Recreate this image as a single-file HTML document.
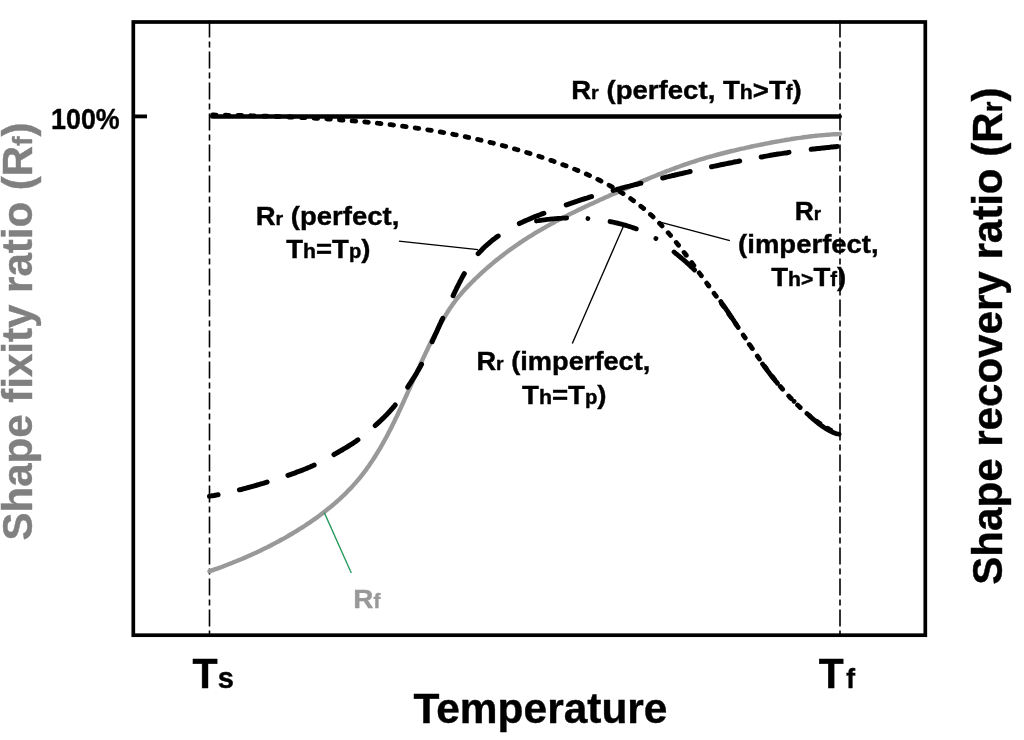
<!DOCTYPE html>
<html><head><meta charset="utf-8"><title>Shape memory chart</title>
<style>html,body{margin:0;padding:0;background:#fff}svg{display:block}</style></head>
<body>
<svg width="1024" height="740" viewBox="0 0 1024 740">
<rect width="1024" height="740" fill="#fff"/>
<g fill="none" stroke-linecap="butt">
<rect x="133.3" y="22" width="792" height="613.2" stroke="#000" stroke-width="3.7"/>
<line x1="135" y1="116.4" x2="147" y2="116.4" stroke="#000" stroke-width="3.8"/>
<line x1="209.5" y1="20.5" x2="209.5" y2="635" stroke="#000" stroke-width="1.6" stroke-dasharray="17 4 6 4"/>
<line x1="840" y1="20.5" x2="840" y2="635" stroke="#000" stroke-width="1.6" stroke-dasharray="17 4 6 4"/>
<path d="M209.5 571.3 L211.4 570.6 L213.4 569.9 L215.3 569.2 L217.2 568.6 L219.1 567.9 L221.0 567.2 L222.9 566.5 L224.8 565.7 L226.7 565.0 L228.6 564.3 L230.5 563.5 L232.4 562.8 L234.2 562.0 L236.1 561.3 L238.0 560.5 L239.9 559.7 L241.7 559.0 L243.6 558.2 L245.5 557.4 L247.3 556.6 L249.2 555.7 L251.0 554.9 L252.9 554.1 L254.7 553.2 L256.5 552.4 L258.4 551.5 L260.2 550.7 L262.0 549.8 L263.8 548.9 L265.7 548.0 L267.5 547.1 L269.3 546.2 L271.1 545.3 L272.9 544.3 L274.7 543.4 L276.5 542.4 L278.3 541.5 L280.0 540.5 L281.8 539.5 L283.6 538.6 L285.4 537.6 L287.1 536.6 L288.9 535.5 L290.6 534.5 L292.4 533.5 L294.1 532.4 L295.9 531.4 L297.6 530.3 L299.3 529.2 L301.1 528.2 L302.8 527.1 L304.5 526.0 L306.2 524.8 L307.9 523.7 L309.6 522.6 L311.3 521.4 L312.9 520.3 L314.6 519.1 L316.3 517.9 L317.9 516.7 L319.6 515.5 L321.2 514.3 L322.8 513.1 L324.4 511.8 L326.0 510.6 L327.6 509.3 L329.2 508.0 L330.8 506.8 L332.3 505.5 L333.9 504.1 L335.4 502.8 L336.9 501.5 L338.4 500.1 L339.9 498.8 L341.4 497.4 L342.9 496.0 L344.4 494.6 L345.8 493.2 L347.2 491.8 L348.6 490.3 L350.0 488.9 L351.4 487.4 L352.8 485.9 L354.1 484.4 L355.5 482.9 L356.8 481.4 L358.1 479.9 L359.4 478.3 L360.6 476.8 L361.9 475.2 L363.1 473.6 L364.3 472.0 L365.6 470.4 L366.7 468.7 L367.9 467.1 L369.1 465.5 L370.2 463.8 L371.4 462.1 L372.5 460.4 L373.6 458.7 L374.7 457.0 L375.8 455.3 L376.8 453.6 L377.9 451.9 L378.9 450.1 L380.0 448.4 L381.0 446.6 L382.0 444.9 L383.0 443.1 L384.0 441.3 L385.0 439.5 L386.0 437.8 L386.9 436.0 L387.9 434.2 L388.8 432.3 L389.8 430.5 L390.7 428.7 L391.6 426.9 L392.5 425.1 L393.4 423.2 L394.3 421.4 L395.2 419.6 L396.1 417.7 L397.0 415.9 L397.9 414.0 L398.7 412.2 L399.6 410.3 L400.5 408.5 L401.3 406.6 L402.2 404.8 L403.0 402.9 L403.9 401.1 L404.7 399.2 L405.5 397.3 L406.4 395.5 L407.2 393.6 L408.0 391.8 L408.9 389.9 L409.7 388.1 L410.5 386.2 L411.3 384.4 L412.2 382.5 L413.0 380.7 L413.8 378.8 L414.7 377.0 L415.5 375.1 L416.3 373.3 L417.1 371.4 L418.0 369.6 L418.8 367.8 L419.7 365.9 L420.5 364.1 L421.3 362.2 L422.2 360.4 L423.0 358.6 L423.9 356.8 L424.8 354.9 L425.6 353.1 L426.5 351.3 L427.4 349.5 L428.2 347.6 L429.1 345.8 L430.0 344.0 L430.9 342.2 L431.8 340.4 L432.8 338.6 L433.7 336.8 L434.6 335.0 L435.6 333.2 L436.5 331.4 L437.5 329.6 L438.4 327.9 L439.4 326.1 L440.4 324.3 L441.4 322.5 L442.4 320.8 L443.4 319.0 L444.4 317.3 L445.5 315.5 L446.5 313.8 L447.6 312.0 L448.7 310.3 L449.8 308.6 L451.0 306.9 L452.1 305.3 L453.3 303.6 L454.5 302.0 L455.7 300.3 L456.9 298.7 L458.2 297.2 L459.5 295.6 L460.8 294.1 L462.1 292.5 L463.5 291.0 L464.8 289.5 L466.2 288.0 L467.6 286.6 L469.0 285.1 L470.4 283.7 L471.8 282.2 L473.3 280.8 L474.7 279.4 L476.2 278.0 L477.7 276.6 L479.2 275.2 L480.6 273.8 L482.1 272.4 L483.6 271.1 L485.2 269.7 L486.7 268.4 L488.2 267.0 L489.8 265.7 L491.3 264.4 L492.9 263.1 L494.4 261.8 L496.0 260.5 L497.6 259.2 L499.2 258.0 L500.8 256.7 L502.4 255.5 L504.0 254.2 L505.6 253.0 L507.3 251.8 L508.9 250.6 L510.5 249.4 L512.2 248.2 L513.9 247.0 L515.5 245.9 L517.2 244.7 L518.9 243.6 L520.5 242.4 L522.2 241.3 L523.9 240.2 L525.6 239.1 L527.3 238.0 L529.0 236.9 L530.8 235.8 L532.5 234.8 L534.2 233.7 L535.9 232.7 L537.7 231.6 L539.4 230.6 L541.2 229.6 L542.9 228.6 L544.7 227.6 L546.4 226.6 L548.2 225.6 L550.0 224.6 L551.8 223.6 L553.5 222.7 L555.3 221.7 L557.1 220.7 L558.9 219.8 L560.7 218.9 L562.5 217.9 L564.3 217.0 L566.1 216.1 L567.9 215.2 L569.7 214.3 L571.5 213.4 L573.4 212.5 L575.2 211.6 L577.0 210.7 L578.8 209.8 L580.7 208.9 L582.5 208.0 L584.3 207.2 L586.2 206.3 L588.0 205.4 L589.8 204.6 L591.7 203.7 L593.5 202.9 L595.4 202.0 L597.2 201.2 L599.1 200.3 L600.9 199.5 L602.8 198.7 L604.6 197.8 L606.5 197.0 L608.3 196.2 L610.2 195.3 L612.0 194.5 L613.9 193.7 L615.8 192.9 L617.6 192.0 L619.5 191.2 L621.3 190.4 L623.2 189.6 L625.0 188.7 L626.9 187.9 L628.8 187.1 L630.6 186.3 L632.5 185.5 L634.3 184.7 L636.2 183.8 L638.1 183.0 L639.9 182.2 L641.8 181.4 L643.7 180.6 L645.5 179.9 L647.4 179.1 L649.3 178.3 L651.1 177.5 L653.0 176.7 L654.9 176.0 L656.8 175.2 L658.6 174.4 L660.5 173.7 L662.4 172.9 L664.3 172.2 L666.2 171.4 L668.1 170.7 L670.0 170.0 L671.9 169.3 L673.8 168.6 L675.7 167.8 L677.6 167.2 L679.5 166.5 L681.4 165.8 L683.3 165.1 L685.2 164.4 L687.1 163.8 L689.0 163.1 L690.9 162.5 L692.9 161.9 L694.8 161.3 L696.7 160.6 L698.7 160.0 L700.6 159.4 L702.5 158.9 L704.5 158.3 L706.4 157.7 L708.4 157.2 L710.3 156.6 L712.3 156.1 L714.2 155.5 L716.2 155.0 L718.2 154.5 L720.1 154.0 L722.1 153.5 L724.0 153.0 L726.0 152.5 L728.0 152.0 L730.0 151.5 L731.9 151.0 L733.9 150.6 L735.9 150.1 L737.9 149.6 L739.8 149.2 L741.8 148.7 L743.8 148.3 L745.8 147.8 L747.8 147.4 L749.8 147.0 L751.7 146.5 L753.7 146.1 L755.7 145.7 L757.7 145.3 L759.7 144.9 L761.7 144.5 L763.7 144.1 L765.7 143.7 L767.7 143.3 L769.6 142.9 L771.6 142.5 L773.6 142.1 L775.6 141.8 L777.6 141.4 L779.6 141.1 L781.6 140.7 L783.6 140.4 L785.6 140.0 L787.6 139.7 L789.6 139.4 L791.6 139.0 L793.6 138.7 L795.6 138.4 L797.6 138.1 L799.6 137.9 L801.6 137.6 L803.6 137.3 L805.7 137.0 L807.7 136.8 L809.7 136.5 L811.7 136.3 L813.7 136.1 L815.7 135.8 L817.7 135.6 L819.8 135.4 L821.8 135.2 L823.8 135.1 L825.8 134.9 L827.8 134.7 L829.9 134.6 L831.9 134.4 L833.9 134.3 L835.9 134.2 L838.0 134.1 L840.0 134.0" stroke="#999" stroke-width="4.4" stroke-linecap="round"/>
<line x1="212.3" y1="116.6" x2="839.7" y2="116.6" stroke="#000" stroke-width="4.5" stroke-linecap="round"/>
<path d="M212.6 115.0 L214.1 115.0 L215.6 115.1 L217.1 115.1 L218.5 115.1 L220.0 115.1 L221.5 115.2 L223.0 115.2 L224.5 115.2 L226.0 115.2 L227.5 115.3 L229.0 115.3 L230.5 115.3 L232.0 115.3 L233.5 115.4 L235.0 115.4 L236.5 115.4 L238.0 115.5 L239.5 115.5 L241.0 115.5 L242.5 115.5 L244.0 115.6 L245.5 115.6 L247.0 115.6 L248.5 115.7 L250.0 115.7 L251.5 115.8 L253.0 115.8 L254.5 115.8 L256.0 115.9 L257.5 115.9 L259.0 115.9 L260.5 116.0 L262.0 116.0 L263.5 116.1 L265.0 116.1 L266.5 116.2 L268.0 116.2 L269.5 116.3 L271.0 116.3 L272.5 116.4 L274.0 116.4 L275.5 116.5 L277.0 116.5 L278.5 116.6 L280.0 116.6 L281.5 116.7 L283.0 116.7 L284.5 116.8 L286.0 116.8 L287.5 116.9 L289.0 117.0 L290.5 117.0 L292.0 117.1 L293.5 117.2 L295.0 117.2 L296.5 117.3 L298.0 117.4 L299.5 117.4 L301.0 117.5 L302.5 117.6 L304.0 117.6 L305.5 117.7 L307.0 117.8 L308.5 117.9 L310.0 118.0 L311.5 118.0 L313.0 118.1 L314.5 118.2 L316.0 118.3 L317.5 118.4 L319.0 118.5 L320.5 118.5 L322.0 118.6 L323.5 118.7 L325.0 118.8 L326.5 118.9 L328.0 119.0 L329.5 119.1 L331.0 119.2 L332.5 119.3 L334.0 119.4 L335.5 119.5 L337.0 119.6 L338.5 119.7 L340.0 119.8 L341.5 120.0 L343.0 120.1 L344.5 120.2 L346.0 120.3 L347.5 120.4 L349.0 120.5 L350.5 120.7 L352.0 120.8 L353.5 120.9 L355.0 121.0 L356.5 121.2 L358.0 121.3 L359.5 121.4 L361.0 121.6 L362.5 121.7 L364.0 121.8 L365.5 122.0 L367.0 122.1 L368.5 122.3 L370.0 122.4 L371.5 122.6 L373.0 122.7 L374.5 122.9 L376.0 123.0 L377.5 123.2 L379.0 123.3 L380.5 123.5 L382.0 123.7 L383.5 123.8 L385.0 124.0 L386.4 124.2 L387.9 124.3 L389.4 124.5 L390.9 124.7 L392.4 124.9 L393.9 125.1 L395.4 125.2 L396.9 125.4 L398.4 125.6 L399.9 125.8 L401.4 126.0 L402.8 126.2 L404.3 126.4 L405.8 126.6 L407.3 126.8 L408.8 127.0 L410.3 127.2 L411.8 127.4 L413.3 127.6 L414.7 127.8 L416.2 128.0 L417.7 128.3 L419.2 128.5 L420.7 128.7 L422.2 128.9 L423.6 129.2 L425.1 129.4 L426.6 129.6 L428.1 129.9 L429.6 130.1 L431.1 130.3 L432.5 130.6 L434.0 130.8 L435.5 131.1 L437.0 131.3 L438.5 131.6 L439.9 131.8 L441.4 132.1 L442.9 132.4 L444.4 132.6 L445.8 132.9 L447.3 133.2 L448.8 133.4 L450.3 133.7 L451.7 134.0 L453.2 134.3 L454.7 134.6 L456.1 134.8 L457.6 135.1 L459.1 135.4 L460.6 135.7 L462.0 136.0 L463.5 136.3 L465.0 136.6 L466.4 136.9 L467.9 137.3 L469.4 137.6 L470.8 137.9 L472.3 138.2 L473.7 138.5 L475.2 138.9 L476.7 139.2 L478.1 139.5 L479.6 139.9 L481.1 140.2 L482.5 140.5 L484.0 140.9 L485.4 141.2 L486.9 141.6 L488.3 141.9 L489.8 142.3 L491.3 142.7 L492.7 143.0 L494.2 143.4 L495.6 143.8 L497.1 144.1 L498.5 144.5 L500.0 144.9 L501.4 145.3 L502.9 145.7 L504.3 146.0 L505.8 146.4 L507.2 146.8 L508.7 147.2 L510.1 147.6 L511.6 148.0 L513.0 148.4 L514.4 148.9 L515.9 149.3 L517.3 149.7 L518.8 150.1 L520.2 150.5 L521.7 151.0 L523.1 151.4 L524.5 151.8 L526.0 152.3 L527.4 152.7 L528.8 153.1 L530.3 153.6 L531.7 154.0 L533.1 154.5 L534.6 154.9 L536.0 155.4 L537.4 155.9 L538.9 156.3 L540.3 156.8 L541.7 157.3 L543.2 157.7 L544.6 158.2 L546.0 158.7 L547.4 159.2 L548.9 159.7 L550.3 160.2 L551.7 160.6 L553.1 161.1 L554.5 161.6 L556.0 162.1 L557.4 162.7 L558.8 163.2 L560.2 163.7 L561.6 164.2 L563.0 164.7 L564.5 165.2 L565.9 165.8 L567.3 166.3 L568.7 166.8 L570.1 167.4 L571.5 167.9 L572.9 168.5 L574.3 169.0 L575.7 169.6 L577.1 170.2 L578.5 170.8 L579.9 171.3 L581.3 171.9 L582.6 172.5 L584.0 173.1 L585.4 173.7 L586.8 174.3 L588.2 174.9 L589.5 175.5 L590.9 176.2 L592.3 176.8 L593.6 177.4 L595.0 178.1 L596.3 178.7 L597.7 179.4 L599.0 180.0 L600.4 180.7 L601.7 181.4 L603.1 182.1 L604.4 182.8 L605.7 183.5 L607.1 184.2 L608.4 184.9 L609.7 185.6 L611.0 186.3 L612.3 187.1 L613.6 187.8 L614.9 188.6 L616.2 189.3 L617.5 190.1 L618.8 190.9 L620.1 191.7 L621.3 192.5 L622.6 193.3 L623.9 194.1 L625.1 194.9 L626.4 195.7 L627.6 196.5 L628.9 197.4 L630.1 198.2 L631.3 199.1 L632.5 200.0 L633.7 200.8 L634.9 201.7 L636.1 202.6 L637.3 203.5 L638.5 204.4 L639.7 205.4 L640.9 206.3 L642.0 207.2 L643.2 208.2 L644.4 209.1 L645.5 210.1 L646.6 211.1 L647.8 212.0 L648.9 213.0 L650.0 214.0 L651.1 215.0 L652.2 216.0 L653.3 217.1 L654.3 218.1 L655.4 219.1 L656.5 220.2 L657.5 221.3 L658.6 222.3 L659.6 223.4 L660.7 224.5 L661.7 225.6 L662.7 226.7 L663.7 227.8 L664.7 228.9 L665.7 230.0 L666.7 231.1 L667.7 232.2 L668.7 233.3 L669.7 234.5 L670.7 235.6 L671.6 236.8 L672.6 237.9 L673.6 239.1 L674.5 240.2 L675.5 241.4 L676.4 242.6 L677.3 243.8 L678.3 244.9 L679.2 246.1 L680.1 247.3 L681.1 248.5 L682.0 249.7 L682.9 250.9 L683.8 252.1 L684.8 253.3 L685.7 254.5 L686.6 255.7 L687.5 256.9 L688.4 258.1 L689.3 259.3 L690.2 260.5 L691.1 261.7 L692.0 263.0 L692.9 264.2 L693.8 265.4 L694.7 266.6 L695.6 267.8 L696.4 269.0 L697.3 270.3 L698.2 271.5 L699.1 272.7 L700.0 273.9 L700.9 275.1 L701.8 276.3 L702.7 277.6 L703.5 278.8 L704.4 280.0 L705.3 281.2 L706.2 282.4 L707.1 283.6 L708.0 284.9 L708.9 286.1 L709.7 287.3 L710.6 288.5 L711.5 289.7 L712.4 290.9 L713.3 292.1 L714.1 293.4 L715.0 294.6 L715.9 295.8 L716.8 297.0 L717.7 298.2 L718.5 299.4 L719.4 300.6 L720.3 301.9 L721.1 303.1 L722.0 304.3 L722.9 305.5 L723.8 306.7 L724.6 308.0 L725.5 309.2 L726.4 310.4 L727.2 311.6 L728.1 312.9 L728.9 314.1 L729.8 315.3 L730.7 316.5 L731.5 317.8 L732.4 319.0 L733.2 320.2 L734.1 321.4 L734.9 322.7 L735.8 323.9 L736.6 325.2 L737.5 326.4 L738.3 327.6 L739.1 328.9 L740.0 330.1 L740.8 331.4 L741.6 332.6 L742.5 333.8 L743.3 335.1 L744.1 336.3 L745.0 337.6 L745.8 338.8 L746.6 340.1 L747.5 341.3 L748.3 342.6 L749.1 343.8 L750.0 345.1 L750.8 346.3 L751.6 347.6 L752.5 348.8 L753.3 350.1 L754.2 351.3 L755.0 352.5 L755.8 353.8 L756.7 355.0 L757.5 356.3 L758.4 357.5 L759.2 358.7 L760.1 360.0 L761.0 361.2 L761.8 362.4 L762.7 363.6 L763.6 364.9 L764.4 366.1 L765.3 367.3 L766.2 368.5 L767.1 369.7 L768.0 370.9 L768.9 372.1 L769.8 373.3 L770.7 374.5 L771.6 375.7 L772.5 376.9 L773.5 378.1 L774.4 379.3 L775.3 380.5 L776.3 381.6 L777.2 382.8 L778.2 384.0 L779.1 385.1 L780.1 386.3 L781.1 387.4 L782.1 388.6 L783.1 389.7 L784.0 390.8 L785.0 391.9 L786.0 393.1 L787.1 394.2 L788.1 395.3 L789.1 396.4 L790.1 397.5 L791.2 398.6 L792.2 399.6 L793.3 400.7 L794.3 401.8 L795.4 402.8 L796.5 403.9 L797.5 405.0 L798.6 406.0 L799.7 407.0 L800.8 408.1 L801.9 409.1 L803.0 410.1 L804.1 411.1 L805.3 412.1 L806.4 413.1 L807.5 414.0 L808.7 415.0 L809.8 415.9 L811.0 416.9 L812.2 417.8 L813.4 418.7 L814.6 419.6 L815.8 420.5 L817.0 421.4 L818.2 422.3 L819.4 423.1 L820.6 424.0 L821.9 424.8 L823.1 425.6 L824.4 426.4 L825.7 427.2 L827.0 428.0 L828.3 428.7 L829.6 429.5 L830.9 430.2 L832.2 430.9 L833.5 431.6 L834.9 432.3 L836.2 432.9 L837.6 433.5 L839.0 434.2" stroke="#000" stroke-width="4.8" stroke-linecap="round" stroke-dasharray="3.6 9.1"/>
<path d="M209.5 496.3 L211.0 496.0 L212.5 495.7 L214.0 495.5 L215.5 495.2 L217.0 494.9 L218.6 494.6 L220.1 494.3 L221.6 494.0 L223.1 493.7 L224.6 493.3 L226.1 493.0 L227.6 492.7 L229.1 492.3 L230.6 492.0 L232.0 491.7 L233.5 491.3 L235.0 490.9 L236.5 490.6 L238.0 490.2 L239.5 489.8 L241.0 489.5 L242.5 489.1 L244.0 488.7 L245.4 488.3 L246.9 487.9 L248.4 487.5 L249.9 487.1 L251.4 486.7 L252.8 486.3 L254.3 485.9 L255.8 485.5 L257.3 485.0 L258.7 484.6 L260.2 484.2 L261.7 483.7 L263.1 483.3 L264.6 482.8 L266.1 482.4 L267.5 481.9 L269.0 481.5 L270.5 481.0 L271.9 480.6 L273.4 480.1 L274.9 479.6 L276.3 479.2 L277.8 478.7 L279.2 478.2 L280.7 477.7 L282.2 477.3 L283.6 476.8 L285.1 476.3 L286.5 475.8 L288.0 475.3 L289.4 474.8 L290.9 474.3 L292.3 473.8 L293.8 473.3 L295.2 472.8 L296.7 472.2 L298.1 471.7 L299.6 471.2 L301.0 470.6 L302.4 470.1 L303.8 469.5 L305.3 469.0 L306.7 468.4 L308.1 467.8 L309.5 467.2 L310.9 466.6 L312.3 465.9 L313.7 465.3 L315.1 464.7 L316.5 464.0 L317.8 463.3 L319.2 462.6 L320.6 461.9 L321.9 461.2 L323.3 460.5 L324.6 459.8 L326.0 459.0 L327.3 458.3 L328.6 457.5 L330.0 456.8 L331.3 456.0 L332.7 455.3 L334.0 454.5 L335.3 453.8 L336.7 453.0 L338.0 452.3 L339.3 451.5 L340.7 450.7 L342.0 450.0 L343.3 449.2 L344.6 448.4 L346.0 447.6 L347.3 446.8 L348.6 446.0 L349.9 445.2 L351.2 444.4 L352.5 443.6 L353.7 442.7 L355.0 441.9 L356.3 441.0 L357.5 440.1 L358.8 439.2 L360.0 438.3 L361.2 437.4 L362.4 436.5 L363.6 435.5 L364.8 434.6 L366.0 433.6 L367.2 432.6 L368.4 431.6 L369.5 430.6 L370.7 429.6 L371.9 428.6 L373.0 427.6 L374.2 426.6 L375.3 425.5 L376.4 424.5 L377.6 423.5 L378.7 422.4 L379.8 421.4 L380.9 420.3 L382.1 419.2 L383.2 418.2 L384.3 417.1 L385.3 416.0 L386.4 414.9 L387.5 413.8 L388.5 412.7 L389.6 411.6 L390.6 410.4 L391.6 409.3 L392.6 408.1 L393.6 407.0 L394.6 405.8 L395.5 404.6 L396.5 403.4 L397.4 402.2 L398.3 401.0 L399.2 399.7 L400.1 398.5 L401.0 397.2 L401.8 396.0 L402.7 394.7 L403.6 393.4 L404.4 392.2 L405.2 390.9 L406.1 389.6 L406.9 388.3 L407.8 387.0 L408.6 385.7 L409.4 384.5 L410.3 383.2 L411.1 381.9 L411.9 380.6 L412.7 379.3 L413.6 378.0 L414.4 376.7 L415.2 375.4 L416.0 374.1 L416.8 372.7 L417.5 371.4 L418.3 370.1 L419.1 368.8 L419.8 367.4 L420.6 366.1 L421.3 364.7 L422.0 363.4 L422.7 362.0 L423.4 360.7 L424.1 359.3 L424.8 357.9 L425.5 356.5 L426.1 355.1 L426.8 353.7 L427.4 352.4 L428.0 351.0 L428.7 349.6 L429.3 348.2 L429.9 346.7 L430.5 345.3 L431.2 343.9 L431.8 342.5 L432.4 341.1 L433.0 339.7 L433.6 338.3 L434.3 336.9 L434.9 335.5 L435.5 334.2 L436.2 332.8 L436.8 331.4 L437.4 330.0 L438.0 328.6 L438.7 327.2 L439.3 325.8 L439.9 324.4 L440.6 323.0 L441.2 321.6 L441.8 320.2 L442.5 318.8 L443.1 317.4 L443.7 316.0 L444.4 314.6 L445.0 313.2 L445.7 311.9 L446.3 310.5 L446.9 309.1 L447.6 307.7 L448.2 306.3 L448.9 304.9 L449.5 303.5 L450.2 302.1 L450.8 300.7 L451.5 299.3 L452.1 297.9 L452.8 296.5 L453.4 295.1 L454.1 293.7 L454.7 292.3 L455.4 290.9 L456.1 289.5 L456.7 288.1 L457.4 286.7 L458.1 285.4 L458.8 284.0 L459.5 282.6 L460.2 281.2 L460.9 279.9 L461.6 278.5 L462.3 277.1 L463.1 275.8 L463.8 274.4 L464.6 273.1 L465.4 271.8 L466.1 270.5 L466.9 269.2 L467.7 267.9 L468.6 266.6 L469.4 265.3 L470.2 264.0 L471.1 262.8 L472.0 261.5 L472.9 260.3 L473.8 259.1 L474.7 257.9 L475.7 256.7 L476.6 255.5 L477.6 254.3 L478.6 253.2 L479.7 252.1 L480.7 251.0 L481.8 249.9 L482.8 248.8 L483.9 247.7 L485.0 246.6 L486.2 245.6 L487.3 244.6 L488.5 243.6 L489.6 242.6 L490.8 241.6 L492.0 240.6 L493.2 239.6 L494.5 238.7 L495.7 237.8 L496.9 236.9 L498.2 236.0 L499.5 235.1 L500.7 234.2 L502.0 233.4 L503.3 232.5 L504.6 231.7 L506.0 230.9 L507.3 230.1 L508.6 229.3 L510.0 228.5 L511.3 227.8 L512.7 227.0 L514.0 226.3 L515.4 225.6 L516.8 224.9 L518.1 224.2 L519.5 223.5 L520.9 222.8 L522.3 222.2 L523.7 221.5 L525.1 220.9 L526.5 220.3 L527.9 219.7 L529.3 219.1 L530.7 218.5 L532.1 217.9 L533.5 217.3 L534.9 216.7 L536.4 216.2 L537.8 215.6 L539.2 215.0 L540.6 214.5 L542.0 213.9 L543.5 213.4 L544.9 212.8 L546.3 212.3 L547.8 211.7 L549.2 211.2 L550.6 210.6 L552.1 210.1 L553.5 209.5 L554.9 209.0 L556.4 208.5 L557.8 207.9 L559.2 207.4 L560.7 206.9 L562.1 206.4 L563.6 205.8 L565.0 205.3 L566.4 204.8 L567.9 204.3 L569.3 203.8 L570.8 203.3 L572.2 202.8 L573.7 202.3 L575.1 201.8 L576.6 201.3 L578.0 200.9 L579.5 200.4 L581.0 199.9 L582.4 199.4 L583.9 199.0 L585.3 198.5 L586.8 198.1 L588.3 197.6 L589.7 197.1 L591.2 196.7 L592.7 196.3 L594.1 195.8 L595.6 195.4 L597.1 194.9 L598.5 194.5 L600.0 194.1 L601.5 193.7 L603.0 193.2 L604.4 192.8 L605.9 192.4 L607.4 192.0 L608.9 191.6 L610.3 191.2 L611.8 190.8 L613.3 190.4 L614.8 189.9 L616.3 189.6 L617.7 189.2 L619.2 188.8 L620.7 188.4 L622.2 188.0 L623.7 187.6 L625.2 187.2 L626.6 186.8 L628.1 186.4 L629.6 186.1 L631.1 185.7 L632.6 185.3 L634.1 184.9 L635.6 184.5 L637.1 184.2 L638.5 183.8 L640.0 183.4 L641.5 183.1 L643.0 182.7 L644.5 182.3 L646.0 182.0 L647.5 181.6 L649.0 181.2 L650.5 180.9 L652.0 180.5 L653.5 180.2 L655.0 179.8 L656.4 179.4 L657.9 179.1 L659.4 178.7 L660.9 178.4 L662.4 178.0 L663.9 177.7 L665.4 177.3 L666.9 176.9 L668.4 176.6 L669.9 176.2 L671.4 175.9 L672.9 175.5 L674.4 175.2 L675.9 174.8 L677.4 174.5 L678.9 174.1 L680.4 173.8 L681.9 173.5 L683.3 173.1 L684.8 172.8 L686.3 172.4 L687.8 172.1 L689.3 171.7 L690.8 171.4 L692.3 171.1 L693.8 170.7 L695.3 170.4 L696.8 170.0 L698.3 169.7 L699.8 169.4 L701.3 169.0 L702.8 168.7 L704.3 168.4 L705.8 168.0 L707.3 167.7 L708.8 167.4 L710.3 167.1 L711.8 166.7 L713.3 166.4 L714.8 166.1 L716.3 165.8 L717.8 165.5 L719.3 165.1 L720.8 164.8 L722.3 164.5 L723.8 164.2 L725.3 163.9 L726.8 163.6 L728.3 163.3 L729.8 163.0 L731.3 162.7 L732.8 162.4 L734.3 162.0 L735.8 161.7 L737.3 161.5 L738.8 161.2 L740.4 160.9 L741.9 160.6 L743.4 160.3 L744.9 160.0 L746.4 159.7 L747.9 159.4 L749.4 159.1 L750.9 158.8 L752.4 158.6 L753.9 158.3 L755.4 158.0 L756.9 157.7 L758.4 157.5 L759.9 157.2 L761.5 156.9 L763.0 156.7 L764.5 156.4 L766.0 156.1 L767.5 155.9 L769.0 155.6 L770.5 155.3 L772.0 155.1 L773.5 154.8 L775.1 154.6 L776.6 154.3 L778.1 154.1 L779.6 153.9 L781.1 153.6 L782.6 153.4 L784.1 153.1 L785.7 152.9 L787.2 152.7 L788.7 152.4 L790.2 152.2 L791.7 152.0 L793.2 151.8 L794.8 151.6 L796.3 151.3 L797.8 151.1 L799.3 150.9 L800.8 150.7 L802.4 150.5 L803.9 150.3 L805.4 150.1 L806.9 149.9 L808.4 149.7 L810.0 149.5 L811.5 149.3 L813.0 149.1 L814.5 149.0 L816.1 148.8 L817.6 148.6 L819.1 148.4 L820.6 148.2 L822.2 148.1 L823.7 147.9 L825.2 147.7 L826.8 147.6 L828.3 147.4 L829.8 147.3 L831.3 147.1 L832.9 147.0 L834.4 146.8 L835.9 146.7 L837.5 146.5 L839.0 146.4" stroke="#000" stroke-width="5" stroke-linecap="round" stroke-dasharray="0.00 2.50 6.26 21.88 28.75 21.89 28.22 22.38 28.21 22.39 28.75 21.83 26.72 24.95 25.62 24.97 24.80 24.32 26.75 24.59 26.64 23.90 26.67 22.37 28.76 22.40 28.26 21.88 28.75 21.87 28.23 22.39 26.25 2000.00"/>
<path d="M536.4 221.1 L537.1 220.9 L537.7 220.8 L538.4 220.7 L539.0 220.6 L539.7 220.5 L540.3 220.4 L541.0 220.3 L541.6 220.2 L542.3 220.1 L542.9 220.0 L543.6 219.9 L544.2 219.9 L544.9 219.8 L545.5 219.7 L546.2 219.6 L546.9 219.5 L547.5 219.4 L548.2 219.4 L548.8 219.3 L549.5 219.2 L550.1 219.1 L550.8 219.1 L551.5 219.0 L552.1 218.9 L552.8 218.9 L553.4 218.8 L554.1 218.8 L554.7 218.7 L555.4 218.7 L556.1 218.6 L556.7 218.6 L557.4 218.5 L558.0 218.5 L558.7 218.4 L559.4 218.4 L560.0 218.3 L560.7 218.3 L561.3 218.3 L562.0 218.2 L562.6 218.2 L563.3 218.2 L564.0 218.1 L564.6 218.1 L565.3 218.1 L565.9 218.1 L566.6 218.0 L567.3 218.0 L567.9 218.0 L568.6 218.0 L569.2 218.0 L569.9 218.0 L570.6 218.0 L571.2 218.0 L571.9 218.0 L572.6 218.0 L573.2 218.0 L573.9 218.0 L574.5 218.0 L575.2 218.0 L575.9 218.0 L576.5 218.0 L577.2 218.0 L577.8 218.0 L578.5 218.0 L579.2 218.1 L579.8 218.1 L580.5 218.1 L581.1 218.1 L581.8 218.2 L582.4 218.2 L583.1 218.2 L583.8 218.3 L584.4 218.3 L585.1 218.3 L585.7 218.4 L586.4 218.4 L587.1 218.5 L587.7 218.5 L588.4 218.6 L589.0 218.6 L589.7 218.7 L590.3 218.7 L591.0 218.8 L591.7 218.9 L592.3 218.9 L593.0 219.0 L593.6 219.1 L594.3 219.1 L594.9 219.2 L595.6 219.3 L596.3 219.4 L596.9 219.4 L597.6 219.5 L598.2 219.6 L598.9 219.7 L599.5 219.8 L600.2 219.9 L600.8 220.0 L601.5 220.1 L602.1 220.2 L602.8 220.3 L603.4 220.4 L604.1 220.5 L604.7 220.6 L605.4 220.7 L606.0 220.8 L606.7 220.9 L607.3 221.0 L608.0 221.1 L608.6 221.3 L609.3 221.4 L609.9 221.5 L610.6 221.6 L611.2 221.8 L611.9 221.9 L612.5 222.0 L613.2 222.2 L613.8 222.3 L614.5 222.5 L615.1 222.6 L615.8 222.8 L616.4 222.9 L617.0 223.1 L617.7 223.2 L618.3 223.4 L619.0 223.5 L619.6 223.7 L620.2 223.8 L620.9 224.0 L621.5 224.2 L622.2 224.3 L622.8 224.5 L623.4 224.7 L624.1 224.9 L624.7 225.1 L625.3 225.2 L626.0 225.4 L626.6 225.6 L627.3 225.8 L627.9 226.0 L628.5 226.2 L629.1 226.4 L629.8 226.6 L630.4 226.8 L631.0 227.0 L631.7 227.2 L632.3 227.4 L632.9 227.6 L633.5 227.9 L634.2 228.1 L634.8 228.3 L635.4 228.5 L636.0 228.8 L636.6 229.0 L637.3 229.2 L637.9 229.5 L638.5 229.7 L639.1 230.0 L639.7 230.2 L640.3 230.5 L640.9 230.7 L641.5 231.0 L642.1 231.2 L642.7 231.5 L643.3 231.8 L643.9 232.0 L644.5 232.3 L645.1 232.6 L645.7 232.9 L646.3 233.2 L646.9 233.4 L647.5 233.7 L648.1 234.0 L648.7 234.3 L649.3 234.6 L649.8 234.9 L650.4 235.3 L651.0 235.6 L651.6 235.9 L652.1 236.2 L652.7 236.5 L653.3 236.9 L653.9 237.2 L654.4 237.5 L655.0 237.9 L655.5 238.2 L656.1 238.6 L656.6 238.9 L657.2 239.3 L657.7 239.7 L658.3 240.0 L658.8 240.4 L659.4 240.8 L659.9 241.1 L660.5 241.5 L661.0 241.9 L661.5 242.3 L662.1 242.7 L662.6 243.1 L663.1 243.5 L663.7 243.9 L664.2 244.2 L664.7 244.6 L665.2 245.0 L665.8 245.5 L666.3 245.9 L666.8 246.3 L667.3 246.7 L667.9 247.1 L668.4 247.5 L668.9 247.9 L669.4 248.3 L669.9 248.7 L670.5 249.1 L671.0 249.6 L671.5 250.0 L672.0 250.4 L672.5 250.8 L673.0 251.2 L673.6 251.6 L674.1 252.0 L674.6 252.5 L675.1 252.9 L675.6 253.3 L676.1 253.7 L676.7 254.1 L677.2 254.5 L677.7 255.0 L678.2 255.4 L678.7 255.8 L679.2 256.2 L679.7 256.6 L680.2 257.1 L680.7 257.5 L681.3 257.9 L681.8 258.3 L682.3 258.8 L682.8 259.2 L683.3 259.6 L683.8 260.0 L684.3 260.5 L684.8 260.9 L685.3 261.3 L685.8 261.8 L686.3 262.2 L686.8 262.7 L687.2 263.1 L687.7 263.5 L688.2 264.0 L688.7 264.4 L689.2 264.9 L689.7 265.3 L690.2 265.8 L690.6 266.2 L691.1 266.7 L691.6 267.2 L692.1 267.6 L692.5 268.1 L693.0 268.5 L693.5 269.0 L694.0 269.5 L694.4 269.9 L694.9 270.4 L695.3 270.9 L695.8 271.3 L696.3 271.8 L696.7 272.3 L697.2 272.7 L697.6 273.2 L698.1 273.7 L698.5 274.2 L699.0 274.7 L699.4 275.1 L699.9 275.6 L700.3 276.1 L700.8 276.6 L701.2 277.1 L701.7 277.6 L702.1 278.1 L702.5 278.5 L703.0 279.0 L703.4 279.5 L703.8 280.0 L704.3 280.5 L704.7 281.0 L705.1 281.5 L705.6 282.0 L706.0 282.5 L706.4 283.0 L706.8 283.5 L707.3 284.0 L707.7 284.5 L708.1 285.0 L708.5 285.5 L708.9 286.1 L709.3 286.6 L709.8 287.1 L710.2 287.6 L710.6 288.1 L711.0 288.6 L711.4 289.1 L711.8 289.6 L712.2 290.2 L712.6 290.7 L713.0 291.2 L713.4 291.7 L713.8 292.2 L714.2 292.8 L714.6 293.3 L715.0 293.8 L715.4 294.3 L715.8 294.8 L716.2 295.4 L716.6 295.9 L717.0 296.4 L717.4 297.0 L717.8 297.5 L718.2 298.0 L718.6 298.5 L718.9 299.1 L719.3 299.6 L719.7 300.1 L720.1 300.7 L720.5 301.2 L720.9 301.7 L721.3 302.3 L721.6 302.8 L722.0 303.4 L722.4 303.9 L722.8 304.4 L723.2 305.0 L723.5 305.5 L723.9 306.1 L724.3 306.6 L724.7 307.1 L725.0 307.7 L725.4 308.2 L725.8 308.8 L726.2 309.3 L726.5 309.9 L726.9 310.4 L727.3 310.9 L727.6 311.5 L728.0 312.0 L728.4 312.6 L728.8 313.1 L729.1 313.7 L729.5 314.2 L729.9 314.8 L730.2 315.3 L730.6 315.9 L731.0 316.4 L731.3 317.0 L731.7 317.5 L732.1 318.1 L732.4 318.6 L732.8 319.2 L733.2 319.7 L733.5 320.3 L733.9 320.8 L734.2 321.4 L734.6 321.9 L735.0 322.5 L735.3 323.1 L735.7 323.6 L736.0 324.2 L736.4 324.7 L736.8 325.3 L737.1 325.8 L737.5 326.4 L737.9 326.9 L738.2 327.5 L738.6 328.0 L738.9 328.6 L739.3 329.2 L739.7 329.7 L740.0 330.3 L740.4 330.8 L740.7 331.4 L741.1 331.9 L741.5 332.5 L741.8 333.0 L742.2 333.6 L742.5 334.2 L742.9 334.7 L743.2 335.3 L743.6 335.8 L744.0 336.4 L744.3 336.9 L744.7 337.5 L745.0 338.0 L745.4 338.6 L745.8 339.2 L746.1 339.7 L746.5 340.3 L746.9 340.8 L747.2 341.4 L747.6 341.9 L747.9 342.5 L748.3 343.0 L748.7 343.6 L749.0 344.1 L749.4 344.7 L749.8 345.3 L750.1 345.8 L750.5 346.4 L750.8 346.9 L751.2 347.5 L751.6 348.0 L751.9 348.6 L752.3 349.1 L752.7 349.7 L753.0 350.2 L753.4 350.8 L753.8 351.3 L754.1 351.9 L754.5 352.4 L754.9 353.0 L755.3 353.5 L755.6 354.1 L756.0 354.6 L756.4 355.1 L756.7 355.7 L757.1 356.2 L757.5 356.8 L757.9 357.3 L758.2 357.9 L758.6 358.4 L759.0 359.0 L759.4 359.5 L759.7 360.0 L760.1 360.6 L760.5 361.1 L760.9 361.7 L761.3 362.2 L761.6 362.7 L762.0 363.3 L762.4 363.8 L762.8 364.3 L763.2 364.9 L763.6 365.4 L764.0 365.9 L764.3 366.5 L764.7 367.0 L765.1 367.5 L765.5 368.1 L765.9 368.6 L766.3 369.1 L766.7 369.7 L767.1 370.2 L767.5 370.7 L767.9 371.2 L768.3 371.8 L768.7 372.3 L769.1 372.8 L769.5 373.3 L769.9 373.9 L770.3 374.4 L770.7 374.9 L771.1 375.4 L771.5 375.9 L771.9 376.4 L772.3 377.0 L772.7 377.5 L773.1 378.0 L773.6 378.5 L774.0 379.0 L774.4 379.5 L774.8 380.0 L775.2 380.5 L775.6 381.1 L776.1 381.6 L776.5 382.1 L776.9 382.6 L777.3 383.1 L777.8 383.6 L778.2 384.1 L778.6 384.6 L779.0 385.1 L779.5 385.6 L779.9 386.1 L780.3 386.6 L780.8 387.1 L781.2 387.6 L781.6 388.1 L782.1 388.6 L782.5 389.1 L782.9 389.5 L783.4 390.0 L783.8 390.5 L784.3 391.0 L784.7 391.5 L785.1 392.0 L785.6 392.5 L786.0 393.0 L786.5 393.5 L786.9 393.9 L787.4 394.4 L787.8 394.9 L788.3 395.4 L788.7 395.9 L789.2 396.3 L789.6 396.8 L790.1 397.3 L790.5 397.8 L791.0 398.2 L791.4 398.7 L791.9 399.2 L792.4 399.7 L792.8 400.1 L793.3 400.6 L793.8 401.1 L794.2 401.5 L794.7 402.0 L795.1 402.5 L795.6 402.9 L796.1 403.4 L796.6 403.9 L797.0 404.3 L797.5 404.8 L798.0 405.3 L798.4 405.7 L798.9 406.2 L799.4 406.6 L799.9 407.1 L800.3 407.5 L800.8 408.0 L801.3 408.5 L801.8 408.9 L802.3 409.4 L802.7 409.8 L803.2 410.3 L803.7 410.7 L804.2 411.2 L804.7 411.6 L805.2 412.1 L805.7 412.5 L806.1 412.9 L806.6 413.4 L807.1 413.8 L807.6 414.3 L808.1 414.7 L808.6 415.1 L809.1 415.6 L809.6 416.0 L810.1 416.5 L810.6 416.9 L811.1 417.3 L811.6 417.8 L812.1 418.2 L812.6 418.6 L813.1 419.1 L813.6 419.5 L814.1 419.9 L814.6 420.3 L815.1 420.8 L815.6 421.2 L816.1 421.6 L816.7 422.0 L817.2 422.4 L817.7 422.8 L818.2 423.2 L818.7 423.7 L819.3 424.1 L819.8 424.4 L820.3 424.8 L820.8 425.2 L821.4 425.6 L821.9 426.0 L822.5 426.4 L823.0 426.7 L823.5 427.1 L824.1 427.5 L824.6 427.8 L825.2 428.2 L825.8 428.5 L826.3 428.9 L826.9 429.2 L827.4 429.5 L828.0 429.9 L828.6 430.2 L829.2 430.5 L829.8 430.8 L830.3 431.1 L830.9 431.4 L831.5 431.7 L832.1 432.0 L832.7 432.2 L833.3 432.5 L833.9 432.8 L834.6 433.0 L835.2 433.3 L835.8 433.5 L836.4 433.7 L837.1 433.9 L837.7 434.1 L838.4 434.3 L839.0 434.5 L839.7 434.7" stroke="#000" stroke-width="4.8" stroke-linecap="round" stroke-dasharray="0.00 2.50 28.02 21.31 0.01 22.29 27.38 21.91 0.01 22.65 27.39 20.58 0.01 20.57 28.34 23.35 0.01 23.64 24.32 24.57 0.01 21.64 32.73 2000.00"/>
<g stroke="#000" stroke-width="1.35">
<line x1="398.9" y1="241.1" x2="478" y2="249.7"/>
<line x1="623.3" y1="226.5" x2="572.3" y2="343.5"/>
<line x1="658.3" y1="221.7" x2="729.9" y2="240.6"/>
</g>
<line x1="324.3" y1="512.6" x2="351.3" y2="573" stroke="#259a5c" stroke-width="1.35"/>
</g>
<g font-family="'Liberation Sans', Arial, sans-serif" font-weight="bold" fill="#000" stroke="#000" stroke-width="0.4" paint-order="stroke">
<text transform="translate(51.08 129.00) scale(0.9254 1)" font-size="29">100%</text>
<text transform="translate(571.18 98.75) scale(1.0376 1)" font-size="26.6">R<tspan font-size="19">r</tspan><tspan font-size="26.6"> (perfect, T</tspan><tspan font-size="20.5">h</tspan><tspan font-size="26.6">&gt;T</tspan><tspan font-size="19.5">f</tspan><tspan font-size="26.6">)</tspan></text>
<text transform="translate(255.69 224.70) scale(1.0347 1)" font-size="26.6">R<tspan font-size="19">r</tspan><tspan font-size="26.6"> (perfect,</tspan></text>
<text transform="translate(286.34 257.50) scale(1.0332 1)" font-size="26.6">T<tspan font-size="20.5">h</tspan><tspan font-size="26.6">=T</tspan><tspan font-size="19.5">p</tspan><tspan font-size="26.6">)</tspan></text>
<text transform="translate(794.66 220.00) scale(0.9959 1)" font-size="26.6">R<tspan font-size="19">r</tspan></text>
<text transform="translate(738.11 252.80) scale(1.0338 1)" font-size="26.6">(imperfect,</text>
<text transform="translate(771.14 285.60) scale(1.0375 1)" font-size="26.6">T<tspan font-size="20.5">h&gt;</tspan><tspan font-size="26.6">T</tspan><tspan font-size="19.5">f</tspan><tspan font-size="26.6">)</tspan></text>
<text transform="translate(476.41 370.30) scale(1.0240 1)" font-size="26.6">R<tspan font-size="19">r</tspan><tspan font-size="26.6"> (imperfect,</tspan></text>
<text transform="translate(522.04 403.50) scale(1.0395 1)" font-size="26.6">T<tspan font-size="20.5">h</tspan><tspan font-size="26.6">=T</tspan><tspan font-size="19.5">p</tspan><tspan font-size="26.6">)</tspan></text>
<text transform="translate(353.36 608.00) scale(1.0500 1)" fill="#999" stroke="#999" font-size="26.6">R<tspan font-size="19.5">f</tspan></text>
<text transform="translate(192.52 688.00) scale(0.9693 1)" font-size="42.4">T<tspan font-size="30">s</tspan></text>
<text transform="translate(818.72 688.00) scale(0.9611 1)" font-size="42.4">T<tspan font-size="27.5" dx="2.7">f</tspan></text>
<text transform="translate(413.50 723.00) scale(0.9941 1)" font-size="42.7">Temperature</text>
<text transform="translate(32.10 540.56) rotate(-90) scale(1.0062 1)" fill="#808080" stroke="#808080" font-size="41.8">Shape fixity ratio (R<tspan font-size="27.5">f</tspan><tspan font-size="41.8">)</tspan></text>
<text transform="translate(1002.10 584.74) rotate(-90) scale(0.9905 1)" font-size="42.5">Shape recovery ratio (R<tspan font-size="28">r</tspan><tspan font-size="42.5">)</tspan></text>
</g>
</svg>
</body></html>
